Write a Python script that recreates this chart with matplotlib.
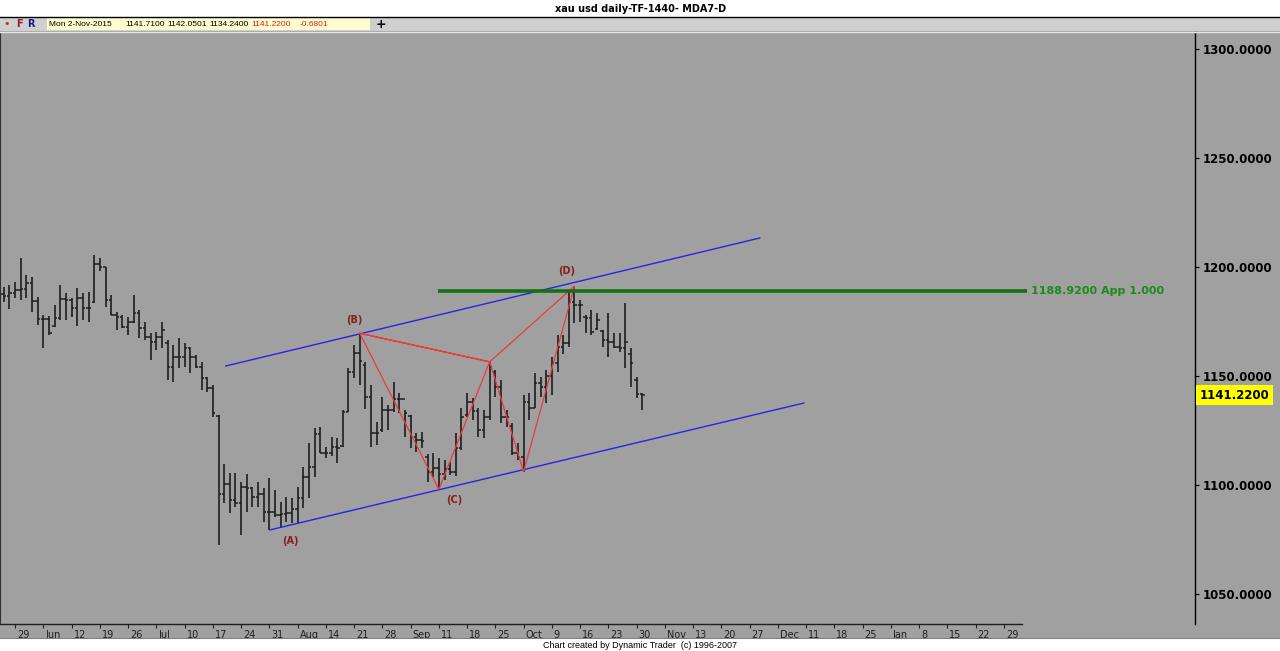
import matplotlib
matplotlib.use("Agg")
import matplotlib.pyplot as plt
from matplotlib.patches import Rectangle
import matplotlib.transforms as mtransforms

# ---------------- data ----------------
# daily bars, 27-May-2015 .. 2-Nov-2015 (bar index 0..113)
opens = [1187.5, 1186.7, 1188.0, 1189.5, 1190.0, 1192.5, 1184.4, 1176.0, 1176.0, 1173.0,
         1176.5, 1185.2, 1184.9, 1181.0, 1185.6, 1181.0, 1184.0, 1201.4, 1200.0, 1184.9,
         1178.0, 1177.2, 1172.3, 1174.9, 1178.8, 1171.9, 1168.1, 1165.8, 1168.1, 1165.0,
         1154.3, 1158.9, 1158.9, 1162.7, 1158.9, 1154.3, 1148.9, 1144.4, 1131.5, 1095.7,
         1100.4, 1093.1, 1091.6, 1099.2, 1098.5, 1094.6, 1095.9, 1087.8, 1087.8, 1086.2,
         1086.7, 1087.0, 1088.8, 1093.9, 1103.8, 1108.4, 1123.2, 1114.5, 1114.8, 1117.6,
         1118.0, 1133.6, 1152.0, 1160.4, 1155.0, 1140.2, 1124.0, 1125.0, 1134.4, 1134.4,
         1139.5, 1139.3, 1131.5, 1122.2, 1120.7, 1113.0, 1106.0, 1108.0, 1105.0, 1107.5,
         1106.0, 1117.0, 1132.0, 1138.0, 1134.0, 1125.0, 1131.0, 1152.0, 1144.8, 1131.3,
         1127.0, 1114.5, 1112.9, 1138.0, 1135.1, 1146.6, 1144.8, 1150.0, 1155.8, 1163.4,
         1165.0, 1184.1, 1182.5, 1177.0, 1176.4, 1171.5, 1170.5, 1166.5, 1165.7, 1163.4,
         1162.7, 1160.0, 1148.0, 1141.71]
highs = [1191.0, 1191.8, 1193.3, 1204.0, 1196.3, 1195.6, 1186.4, 1178.0, 1177.5, 1182.6,
         1191.8, 1188.0, 1185.6, 1190.2, 1187.9, 1188.7, 1205.5, 1204.0, 1200.2, 1187.2,
         1179.5, 1178.0, 1177.2, 1187.2, 1180.3, 1174.9, 1169.6, 1170.4, 1174.9, 1166.5,
         1164.2, 1167.3, 1165.0, 1163.5, 1159.7, 1156.6, 1149.7, 1145.9, 1132.1, 1109.6,
         1105.6, 1105.6, 1101.5, 1105.0, 1099.2, 1101.5, 1098.5, 1103.0, 1097.7, 1092.3,
         1094.6, 1093.9, 1099.2, 1108.4, 1119.1, 1126.0, 1126.4, 1117.6, 1122.2, 1121.4,
         1134.4, 1153.5, 1164.2, 1169.6, 1156.6, 1145.9, 1129.1, 1140.5, 1136.7, 1147.4,
         1142.1, 1134.4, 1132.1, 1123.7, 1124.5, 1114.0, 1114.5, 1112.2, 1111.5, 1110.7,
         1123.7, 1135.2, 1142.1, 1139.8, 1135.2, 1134.4, 1156.5, 1152.7, 1148.1, 1134.4,
         1128.3, 1119.1, 1141.2, 1142.0, 1151.2, 1149.7, 1152.7, 1158.8, 1168.8, 1168.8,
         1188.6, 1191.2, 1184.8, 1177.9, 1180.2, 1178.7, 1171.1, 1178.7, 1169.5, 1169.5,
         1183.3, 1162.7, 1149.7, 1142.05]
lows = [1184.1, 1180.6, 1185.6, 1184.9, 1185.6, 1179.5, 1173.4, 1162.7, 1168.8, 1172.6,
        1175.7, 1175.7, 1177.2, 1173.0, 1175.7, 1174.9, 1183.3, 1198.0, 1181.8, 1178.0,
        1171.1, 1171.9, 1168.8, 1174.2, 1167.3, 1166.5, 1157.4, 1162.0, 1162.7, 1148.2,
        1147.4, 1153.5, 1154.3, 1151.2, 1153.5, 1143.6, 1142.8, 1131.4, 1072.5, 1091.9,
        1087.0, 1090.0, 1077.1, 1087.8, 1090.0, 1090.0, 1083.2, 1079.5, 1085.5, 1080.9,
        1083.2, 1082.4, 1082.4, 1089.3, 1093.9, 1103.8, 1114.5, 1112.2, 1113.3, 1109.9,
        1117.3, 1133.6, 1148.9, 1145.9, 1134.7, 1117.6, 1118.4, 1124.5, 1125.2, 1133.6,
        1132.9, 1122.2, 1116.8, 1115.3, 1116.8, 1101.5, 1103.8, 1098.0, 1102.3, 1104.6,
        1104.1, 1116.1, 1131.4, 1129.8, 1122.2, 1121.4, 1129.8, 1140.5, 1128.3, 1126.7,
        1113.7, 1111.4, 1106.1, 1129.8, 1135.1, 1140.5, 1137.4, 1141.2, 1151.9, 1160.0,
        1163.4, 1174.1, 1174.9, 1169.5, 1168.8, 1171.1, 1163.4, 1158.8, 1162.7, 1161.1,
        1153.5, 1145.1, 1139.7, 1134.24]
closes = [1186.7, 1188.0, 1189.5, 1190.0, 1192.5, 1184.4, 1176.0, 1176.0, 1169.6, 1176.5,
          1185.2, 1184.9, 1181.0, 1185.6, 1181.0, 1181.0, 1201.4, 1200.0, 1184.9, 1178.0,
          1177.2, 1172.3, 1174.9, 1178.8, 1171.9, 1168.1, 1165.8, 1168.1, 1171.1, 1154.3,
          1158.9, 1158.9, 1162.7, 1158.9, 1154.3, 1148.9, 1144.4, 1132.9, 1095.7, 1100.4,
          1093.1, 1091.6, 1099.2, 1098.5, 1094.6, 1095.9, 1087.8, 1087.8, 1086.2, 1086.7,
          1087.0, 1088.8, 1093.9, 1103.8, 1108.4, 1123.2, 1114.5, 1114.8, 1117.6, 1116.8,
          1133.6, 1152.0, 1160.4, 1157.0, 1140.2, 1124.0, 1123.7, 1134.4, 1134.4, 1139.5,
          1139.3, 1132.9, 1122.2, 1120.7, 1120.3, 1106.0, 1108.0, 1105.0, 1107.5, 1106.0,
          1117.0, 1131.0, 1138.0, 1134.0, 1125.0, 1131.0, 1154.0, 1144.8, 1131.3, 1131.3,
          1114.5, 1112.9, 1138.0, 1135.1, 1146.6, 1144.8, 1150.0, 1155.8, 1163.4, 1165.0,
          1184.1, 1182.5, 1182.5, 1176.4, 1170.3, 1175.6, 1166.5, 1165.7, 1163.4, 1162.7,
          1165.7, 1155.8, 1141.9, 1141.22]

# weekly date-axis labels (Fridays, 29-May-2015 .. 29-Jan-2016)
date_labels = ["29", "Jun", "12", "19", "26", "Jul", "10", "17", "24", "31", "Aug", "14",
               "21", "28", "Sep", "11", "18", "25", "Oct", "9", "16", "23", "30", "Nov",
               "13", "20", "27", "Dec", "11", "18", "25", "Jan", "8", "15", "22", "29"]
first_label_bar = 2      # 29-May is bar 2
bars_per_week = 5

price_ticks = [1050, 1100, 1150, 1200, 1250, 1300]

# pattern pivots (bar index, price)
pivot_names = ["(A)", "(B)", "(C)", "(D)"]
pivot_bar = [47, 63, 77, 101]
pivot_price = [1079.5, 1169.6, 1098.0, 1191.2]
harmonic_bar = [63, 77, 86, 63, 86, 92, 101, 86]
harmonic_price = [1169.6, 1098.0, 1156.5, 1169.6, 1156.5, 1106.1, 1191.2, 1156.5]

# channel lines (bar index, price)
upper_bar = [39.3, 133.8]
upper_price = [1154.6, 1213.3]
lower_bar = [47.1, 141.6]
lower_price = [1079.4, 1137.6]

target_price = 1188.92
target_bar_range = [76.9, 181.1]
target_text = "1188.9200 App 1.000"

header_values = ["Mon 2-Nov-2015", "1141.7100", "1142.0501", "1134.2400", "1141.2200", "-0.6801"]
last_close = closes[-1]

# ---------------- figure ----------------
W, H = 1280, 651
fig = plt.figure(figsize=(W / 100, H / 100), dpi=100)
GRAY = "#a0a0a0"
fig.patch.set_facecolor(GRAY)

def fx(px):
    return px / W

def fy(py):
    return 1 - py / H

def frect(x0, y0, x1, y1, **kw):
    fig.patches.append(Rectangle((fx(x0), fy(y1)), fx(x1) - fx(x0), fy(y0) - fy(y1),
                                 transform=fig.transFigure, figure=fig, **kw))

# header bars
frect(0, 0, W, 17, facecolor="white", edgecolor="none")
frect(0, 17, W, 31, facecolor="#cfcfcf", edgecolor="none")
frect(47, 18, 370, 30, facecolor="#fdfccf", edgecolor="none")
frect(0, 638, W, H, facecolor="white", edgecolor="none")
fig.lines.append(plt.Line2D([0, 1], [fy(17), fy(17)], transform=fig.transFigure, color="black", lw=1))
fig.lines.append(plt.Line2D([0, 1], [fy(31.5), fy(31.5)], transform=fig.transFigure, color="#e6e6e6", lw=1))
fig.lines.append(plt.Line2D([0, 1], [fy(638), fy(638)], transform=fig.transFigure, color="#808080", lw=0.8))

fig.text(fx(641), fy(9), "xau usd daily-TF-1440- MDA7-D", ha="center", va="center",
         fontsize=7, fontweight="bold", color="black")
fig.text(fx(7), fy(24), "\u2022", ha="center", va="center", fontsize=8, color="#e02020")
fig.text(fx(19), fy(24), "F", ha="center", va="center", fontsize=7, fontweight="bold", color="#9a1a1a")
fig.text(fx(31), fy(24), "R", ha="center", va="center", fontsize=7, fontweight="bold", color="#1a1a8a")
hx = [49, 125, 167, 209, 251, 300]
for x, t, col in zip(hx, header_values, ["black"] * 4 + ["#e02020"] * 2):
    fig.text(fx(x), fy(24), t, ha="left", va="center", fontsize=6, family="Liberation Sans", color=col)
fig.text(fx(381), fy(24), "+", ha="center", va="center", fontsize=9, fontweight="bold", color="black")
fig.text(fx(640), fy(645), "Chart created by Dynamic Trader  (c) 1996-2007", ha="center", va="center",
         fontsize=6.5, family="Liberation Sans", color="black")

# main axes
PX0, PXS = 3.8, 5.65            # pixel of bar 0 and pixels per bar
Y1300, PPU = 49.0, 2.18          # pixel of 1300 and pixels per price unit
left_px, right_px, top_px, bot_px = 0, 1195, 32, 624
ax = fig.add_axes([fx(left_px), fy(bot_px), fx(right_px) - fx(left_px), fy(top_px) - fy(bot_px)])
ax.set_facecolor(GRAY)
ax.set_xlim((left_px - PX0) / PXS, (right_px - PX0) / PXS)
ymax = 1300 + (Y1300 - top_px) / PPU
ymin = 1300 - (bot_px - Y1300) / PPU
ax.set_ylim(ymin, ymax)

idx = list(range(len(closes)))
bar_col = "#1e1e1e"
ax.vlines(idx, lows, highs, color=bar_col, lw=1.2)
ax.hlines(opens, [i - 0.45 for i in idx], idx, color=bar_col, lw=1.1)
ax.hlines(closes, idx, [i + 0.45 for i in idx], color=bar_col, lw=1.1)

# channel
ax.plot(upper_bar, upper_price, color="#2424e6", lw=1.0)
ax.plot(lower_bar, lower_price, color="#2424e6", lw=1.0)
# harmonic pattern
ax.plot(harmonic_bar, harmonic_price, color="#ee3a3a", lw=0.9)
# target line
ax.plot(target_bar_range, [target_price, target_price], color="#137013", lw=2.6, solid_capstyle="butt")
ax.text(target_bar_range[1] + 0.7, target_price, target_text, ha="left", va="center",
        fontsize=8, fontweight="bold", color="#1b8a1b")

# pivot labels
label_offsets = [(3.7, -5.2), (-1.0, 6.1), (2.8, -5.0), (-1.3, 7.0)]
for name, b, p, (dx, dy) in zip(pivot_names, pivot_bar, pivot_price, label_offsets):
    ax.text(b + dx, p + dy, name, ha="center", va="center", fontsize=7, fontweight="bold",
            color="#8c1c1c")

# axes styling
for s in ["top", "bottom"]:
    ax.spines[s].set_visible(False)
ax.spines["left"].set_color("#303030")
ax.spines["right"].set_color("black")
ax.spines["right"].set_linewidth(1.0)

ax.yaxis.tick_right()
ax.set_yticks(price_ticks)
ax.set_yticklabels(["%.4f" % v for v in price_ticks])
ax.tick_params(axis="y", direction="out", length=3, width=0.8, pad=2.5, labelsize=8.5, colors="black")
for lbl in ax.get_yticklabels():
    lbl.set_fontweight("bold")

tick_pos = [first_label_bar + bars_per_week * k for k in range(len(date_labels))]
ax.set_xticks(tick_pos)
ax.set_xticklabels(date_labels)
ax.tick_params(axis="x", direction="out", length=3, width=0.8, pad=1, labelsize=7, colors="#202020")
for lbl in ax.get_xticklabels():
    lbl.set_ha("left")
    lbl.set_transform(lbl.get_transform() + mtransforms.ScaledTranslation(2 / 100, 0, fig.dpi_scale_trans))
ax.plot([ax.get_xlim()[0], (1022 - PX0) / PXS], [ymin, ymin], color="#202020", lw=1.0, clip_on=False)

# last price box
trans = mtransforms.blended_transform_factory(ax.transAxes, ax.transData)
ax.text(1.0 + 5 / 1195, last_close, "%.4f" % last_close, transform=trans, ha="left", va="center",
        fontsize=8.5, fontweight="bold", color="black", clip_on=False,
        bbox=dict(boxstyle="square,pad=0.3", facecolor="#ffff00", edgecolor="none"))

fig.savefig("out.png", dpi=100, facecolor=fig.get_facecolor())
